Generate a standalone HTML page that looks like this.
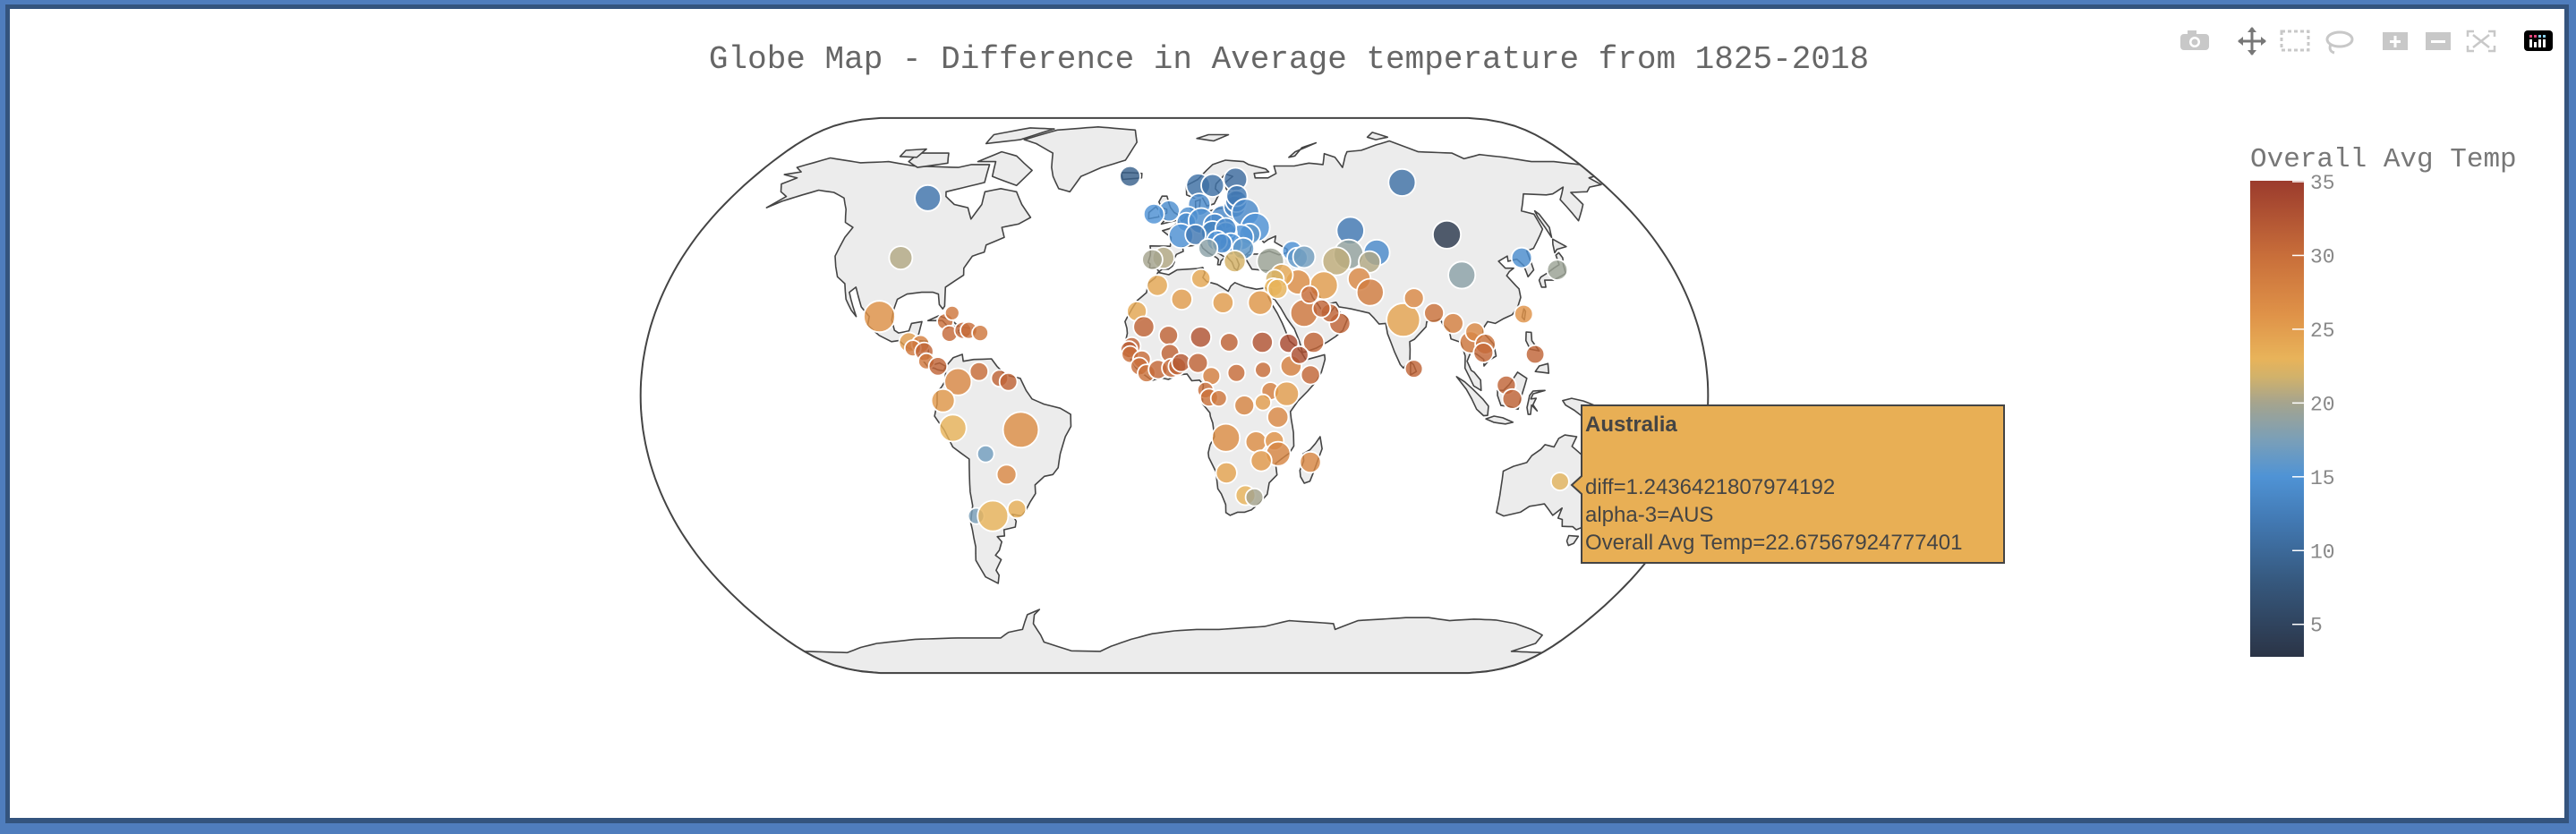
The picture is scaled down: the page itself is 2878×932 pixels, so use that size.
<!DOCTYPE html>
<html><head><meta charset="utf-8">
<style>
html,body{margin:0;padding:0;background:#4f7dbd;width:2878px;height:932px;overflow:hidden}
svg{position:absolute;left:0;top:0}
</style></head>
<body>
<svg id="chart" width="2878" height="932" viewBox="0 0 2878 932" xmlns="http://www.w3.org/2000/svg">
  <defs>
    <linearGradient id="cbgrad" x1="0" y1="1" x2="0" y2="0"></linearGradient>
  </defs>
  <rect x="0" y="0" width="2878" height="932" fill="#4f7dbd"/>
  <rect x="6" y="5" width="2864" height="915" fill="#34547e"/>
  <rect x="11" y="10" width="2854" height="904" fill="#ffffff"/>
  <text x="1440" y="76" text-anchor="middle" font-family="Liberation Mono, monospace" font-size="36" fill="#666">Globe Map - Difference in Average temperature from 1825-2018</text>
  <g id="map"></g>
  <g id="bubbles"></g>
  <g id="colorbar"></g>
  <g id="tooltip">
    <path d="M1767,453 H2239 V629 H1767 V552 L1756,542 L1767,532 Z" fill="#e8af55" stroke="#444" stroke-width="2"/>
    <text x="1771" y="482" font-family="Liberation Sans, sans-serif" font-size="24" font-weight="bold" fill="#444">Australia</text>
    <text x="1771" y="552" font-family="Liberation Sans, sans-serif" font-size="24" fill="#444">diff=1.2436421807974192</text>
    <text x="1771" y="583" font-family="Liberation Sans, sans-serif" font-size="24" fill="#444">alpha-3=AUS</text>
    <text x="1771" y="614" font-family="Liberation Sans, sans-serif" font-size="24" fill="#444">Overall Avg Temp=22.67567924777401</text>
  </g>
  <g id="toolbar" transform="translate(0,14)">
    <g>
      <rect x="2436" y="24" width="32" height="18" rx="4" fill="#c8c8c8"/><rect x="2444" y="20" width="10" height="6" fill="#c8c8c8"/><circle cx="2452" cy="33" r="6" fill="#fff"/><circle cx="2452" cy="33" r="3.5" fill="#c8c8c8"/>
    </g>
    <g stroke="#777" stroke-width="3" fill="#777">
      <line x1="2501" y1="32" x2="2531" y2="32"/><line x1="2516" y1="17" x2="2516" y2="47"/>
      <path d="M2500,32 l6,-5 v10z M2532,32 l-6,-5 v10z M2516,16 l-5,6 h10z M2516,48 l-5,-6 h10z" stroke="none"/>
    </g>
    <rect x="2549" y="21" width="30" height="21" fill="none" stroke="#c8c8c8" stroke-width="3" stroke-dasharray="4,3"/>
    <g><ellipse cx="2614" cy="30" rx="14" ry="8" fill="none" stroke="#c8c8c8" stroke-width="3"/><path d="M2604,35 q-3,8 4,10" fill="none" stroke="#c8c8c8" stroke-width="3"/></g>
    <g><rect x="2662" y="22" width="28" height="20" fill="#c8c8c8"/><rect x="2670" y="31" width="12" height="3" fill="#fff"/><rect x="2674.5" y="26" width="3" height="13" fill="#fff"/></g>
    <g><rect x="2710" y="22" width="28" height="20" fill="#c8c8c8"/><rect x="2716" y="31" width="16" height="3" fill="#fff"/></g>
    <g fill="none" stroke="#c8c8c8" stroke-width="2.5">
      <path d="M2757,27 v-6 h7 M2780,21 h7 v6 M2787,37 v6 h-7 M2764,43 h-7 v-6"/><path d="M2763,25 l18,14 M2781,25 l-18,14"/>
    </g>
    <g><rect x="2820" y="20" width="32" height="23" rx="4" fill="#000"/>
      <rect x="2826" y="30" width="3" height="9" fill="#fff"/><rect x="2831" y="33" width="3" height="6" fill="#fff"/><rect x="2836" y="30" width="3" height="9" fill="#fff"/><rect x="2841" y="30" width="3" height="9" fill="#fff"/>
      <rect x="2826" y="25" width="3" height="3" fill="#e0457b"/><rect x="2831" y="25" width="3" height="3" fill="#e0457b"/><rect x="2836" y="25" width="3" height="3" fill="#8bd3f0"/><rect x="2841" y="25" width="3" height="3" fill="#8bd3f0"/>
    </g>
  </g>
</svg>
<script>
// ---------- data ----------
const countries = ["Canada","United States","Mexico","Cuba","Bahamas","Jamaica","Haiti","Dominican Republic","Puerto Rico","Guatemala","Honduras","El Salvador","Nicaragua","Costa Rica","Panama","Colombia","Venezuela","Guyana","Suriname","Ecuador","Peru","Brazil","Bolivia","Paraguay","Chile","Argentina","Uruguay",
"Iceland","Norway","Sweden","Finland","Russia","Denmark","United Kingdom","Ireland","Netherlands","Belgium","France","Germany","Poland","Czechia","Austria","Switzerland","Lithuania","Latvia","Estonia","Belarus","Ukraine","Moldova","Romania","Hungary","Slovakia","Serbia","Croatia","Bosnia","Bulgaria","Greece","Italy","Spain","Portugal","Turkey","Georgia","Armenia","Azerbaijan","Kazakhstan","Uzbekistan","Turkmenistan","Kyrgyzstan","Tajikistan","Afghanistan","Pakistan","Iran","Iraq","Syria","Lebanon","Israel","Jordan","Saudi Arabia","Yemen","Oman","UAE","Kuwait","Qatar","Mongolia","China","India","Nepal","Bangladesh","Myanmar","Thailand","Laos","Vietnam","Cambodia","Taiwan","Philippines","Malaysia","Indonesia","Sri Lanka","North Korea","Japan",
"Morocco","Algeria","Tunisia","Libya","Egypt","Western Sahara","Mauritania","Mali","Niger","Chad","Sudan","Eritrea","Ethiopia","Somalia","Djibouti","Senegal","Gambia","Guinea-Bissau","Guinea","Sierra Leone","Liberia","Ivory Coast","Burkina Faso","Ghana","Togo","Benin","Nigeria","Cameroon","Central African Rep.","South Sudan","Equatorial Guinea","Gabon","Congo","DR Congo","Uganda","Kenya","Rwanda","Tanzania","Angola","Zambia","Malawi","Mozambique","Zimbabwe","Namibia","South Africa","Lesotho","Madagascar","Australia"];
const lons = [-100,-100,-102,-79,-77,-77,-72.5,-70.5,-66.5,-90.5,-86.5,-89,-85,-84,-80,-73,-66,-59,-56,-78,-75,-52,-64.5,-58,-71,-65,-56,
-19,10,16,26,96,10,-2,-8,5.5,4.6,2.5,10.4,19,15.5,14.5,8,24,25,25.5,28,31,28.5,25,19.5,19.7,21,16,17.8,25.5,22,12.5,-4,-8,35,43.5,45,47.5,67,64,59,74.5,71,66,69,53,44,38.5,35.8,35,36.5,45,47.5,57,54,47.5,51.2,103,103,79,84,90,96,101,103,106,105,121,122.5,112,114,81,127,138,
-6,2.6,9.5,17,30,-13,-10.5,-2,9,18.7,30,39,39.5,46,42.5,-14.5,-15.4,-15,-11,-11.8,-9.4,-5.5,-1.5,-1,1,2.3,8,12.5,21,30,10.5,11.7,15,23.6,32.4,37.9,29.9,35,17.5,27.8,34,35.5,29.8,18,25,28.2,46.7,134];
const lats = [58,40,23,21.5,24,18,19,19,18.2,15.5,15,13.8,12.8,10,8.5,4,7,5,4,-1.5,-9.5,-10,-17,-23,-35,-35,-33,
65,62,62,64,63,56,54,53,52.3,50.6,46.5,51,52,49.8,47.5,46.8,55.3,57,58.7,53.5,49,47,46,47.2,48.7,44,45,44.2,42.7,39,42.8,40,39.5,39,42,40,40.3,48,41,39,41.5,38.8,33.9,30,32,33,35,33.9,31.4,31,24,15.5,21,24,29.3,25.3,46.8,35,22,28.3,24,21,15.5,18.5,15,12.5,23.7,12,3,-1,7.8,40,36.5,
32,28,34,27,27,24.5,20,17.5,17,15.5,15.5,15.2,8.6,6,11.8,14.4,13.4,12,10.5,8.5,6.5,7.6,12.3,8,8.5,9.6,9.5,5.7,6.6,7.5,1.6,-0.6,-0.8,-2.9,1.3,0.5,-2,-6.3,-12.3,-13.5,-13.2,-17,-19,-22.5,-29,-29.6,-19.4,-25];
const temps = [11.5,20.5,26,30,29,30.5,31,30,29,25,28,29,31,29,31,27,30,31,31,25.5,23,26.5,17,27,17.5,23,23.5,
9,11,11,10.5,11,14,14.5,15,14.5,14.5,15,14.5,14,14,13,12,13,12.5,12,14,15,16,15,15,14,15,15,14,16,22,18.5,20.5,20,19.5,15,16,17,12,19,21,14,20.5,27,28.5,25,26.5,24,22,23,23,29,31,31,31,30,31,3.5,18.5,24.5,27,29.5,28,29,27,29.5,30.5,26,31,31,31,31,14.5,19.5,
24,25,24,25,25.5,24,31,31,32.5,31,32.5,33.5,28,30.5,33,31,31.5,30,30,30,29.5,30.5,31,30.5,31,32,31,28,30,30,30,29.5,29,27.5,28,25,25,27,26.5,26.5,26,27.5,25.5,24.5,23,20,27,22.68];
const diffs = [2.6,2.1,3.8,1.0,0.8,1.0,1.1,1.1,1.0,1.5,1.2,1.0,1.3,1.0,1.3,2.8,1.3,1.1,1.2,2.1,2.8,4.9,1.1,1.5,1.0,3.6,1.3,
1.6,2.2,2.0,2.1,2.8,1.9,1.7,1.6,1.5,1.4,2.3,2.5,2.3,1.9,2.0,1.6,1.8,1.8,1.7,2.9,3.2,1.7,2.5,1.9,1.7,1.9,1.6,1.5,1.8,1.8,1.4,1.8,1.6,2.8,1.5,1.6,1.9,2.9,3.4,3.0,2.6,1.8,2.0,2.8,3.0,2.4,1.9,1.3,1.3,1.5,2.9,1.7,1.7,1.3,1.2,1.2,3.0,2.8,4.3,1.5,1.5,1.6,1.8,1.4,1.6,1.5,1.3,1.3,1.4,1.5,1.2,1.6,1.6,
1.7,1.7,1.4,1.7,2.3,1.5,1.7,1.4,1.7,1.3,1.7,1.4,1.7,1.4,1.2,1.2,1.1,1.1,1.2,1.2,1.2,1.4,1.3,1.4,1.2,1.3,1.5,1.2,1.2,1.0,1.0,1.2,1.0,1.5,1.2,2.3,1.0,1.7,3.0,1.7,1.4,2.3,1.7,1.7,1.5,1.2,1.7,1.2436];
const cbTicks = [5,10,15,20,25,30,35];
const cbMin = 2.8, cbMax = 35.06;
const stopT = [2.8,8,12,15,17.5,20,21.8,23,26,30,35.06];
const stopC = ["#2b3446","#36597f","#4279b3","#4f93d5","#7a9fb8","#a5a48e","#d2b26a","#e8b35a","#df9248","#c86e3a","#9b3b2d"];

// ---------- projection (Natural Earth) ----------
const CX=1312, CY=442, SX=218, SY=218, D=Math.PI/180;
function proj(lon,lat){
  const p=lat*D,l=lon*D,p2=p*p,p4=p2*p2;
  const f=0.8707-0.131979*p2-0.013791*p4+p4*p4*p2*(0.003971-0.001529*p2);
  const yv=p*(1.007226+p2*(0.015085+p4*(-0.044475+0.028874*p2-0.005916*p4)));
  return [CX+SX*l*f, CY-SY*yv];
}
function dense(pts){
  const out=[];
  for(let i=0;i<pts.length;i++){
    const a=pts[i],b=pts[(i+1)%pts.length];
    const n=Math.max(1,Math.ceil(Math.max(Math.abs(b[0]-a[0]),Math.abs(b[1]-a[1]))/3));
    for(let k=0;k<n;k++) out.push([a[0]+(b[0]-a[0])*k/n,a[1]+(b[1]-a[1])*k/n]);
  }
  return out;
}
function pathOf(pts){return "M"+dense(pts).map(p=>proj(p[0],p[1]).map(v=>v.toFixed(1)).join(",")).join("L")+"Z";}

const land = {
"north-america":[[-166,68],[-156,71.3],[-140,69.6],[-128,70],[-115,68.5],[-95,68],[-90,69],[-82,69],[-80,63],[-94,60],[-93,58.5],[-88,56],[-82,55],[-79,51.5],[-77,56],[-78,60],[-72,61],[-65,60],[-61,56],[-56,52],[-60,50],[-66,49],[-64,46],[-70,43.8],[-70,41.7],[-74,40.5],[-76,37],[-75.5,35],[-81,31.5],[-80,26],[-80.5,25.2],[-82,26.5],[-83,29.5],[-85,30],[-89,30],[-94,29.5],[-97,28],[-97.5,25],[-97.5,22],[-96,19],[-94.5,18.2],[-91,18.8],[-90.5,21],[-87,21.5],[-87.5,18],[-88,16],[-84,15.8],[-83.5,12],[-83.6,10.8],[-81.5,9],[-79.5,9.5],[-77.3,8.5],[-78,7.2],[-80,7.5],[-81,7.9],[-83.5,8.5],[-86,11],[-87.5,13],[-91,14],[-94,16],[-96.5,15.7],[-101,17.5],[-105.5,20.5],[-105.5,23],[-109,25.8],[-112.7,31.5],[-114.5,30],[-112,26],[-110,23],[-112.2,24.8],[-115,28],[-117,32.5],[-120.5,34.5],[-122.5,37.5],[-124.3,40.5],[-124,46],[-123,49],[-127,50.5],[-130,54.5],[-134,58],[-140,59.8],[-147,60.5],[-152,59],[-158,57],[-162,55],[-158,58.5],[-162,60],[-165,62.5],[-161,64.5],[-168,65.6],[-162,66.5]],
"greenland":[[-73,78],[-60,82],[-40,83.5],[-20,82],[-18,77],[-22,70.5],[-32,68],[-40,65],[-43,60],[-48,61],[-52,65],[-54,68],[-56,73],[-66,76.5]],
"baffin":[[-80,73.5],[-72,72],[-62,67],[-66,62],[-72,63.5],[-78,65],[-80,70],[-88,70]],
"victoria":[[-118,73],[-104,73],[-101,69.5],[-113,68],[-119,70]],
"ellesmere":[[-90,80],[-75,83],[-62,82.5],[-75,78],[-90,76.5]],
"banks":[[-125,74],[-116,74.5],[-117,71.5],[-125,71.8]],
"south-america":[[-77.3,8.5],[-75,11],[-72,12],[-71.5,10],[-68,10.5],[-62,10.7],[-60,8.5],[-57,6],[-52,5],[-50,1.5],[-48,-1],[-44,-2.5],[-38.5,-3.7],[-35,-5.5],[-35,-9],[-37,-12],[-39,-17],[-40,-21],[-42,-23],[-45,-23.5],[-48.5,-26],[-48.7,-28.5],[-51,-31],[-53,-33.5],[-54.8,-35],[-58,-34.5],[-57,-36.5],[-57.7,-38.2],[-62,-39],[-62.3,-40.8],[-65,-41],[-63.8,-42.5],[-65.5,-45],[-67.5,-46.5],[-65.8,-47.8],[-69,-51],[-68.5,-52.5],[-70,-55],[-74,-53],[-75.5,-48],[-74,-44],[-73.5,-39],[-73.5,-37],[-71.5,-32],[-71.5,-28],[-70.3,-18.5],[-75.5,-15],[-78,-10],[-81,-6],[-80,-2.5],[-80,1],[-78.5,2.5],[-77.5,4],[-77.3,6.5]],
"eurasia":[[-9,43.5],[-1.5,43.4],[-1.2,46],[-4.5,48],[-1.5,48.7],[1.5,50.5],[4,51.5],[5,53],[8.5,53.8],[8.5,57],[10.5,57.5],[10,55],[12,54.2],[14,54],[18,54.8],[21,55],[21,57],[24,57.5],[23.5,59.2],[28,59.5],[22.5,60],[21.5,61],[21.5,63],[25,65],[22,65.8],[17.5,62.5],[17,61],[18.5,59.5],[16,56.2],[13,55.5],[11,58.8],[8,58],[5,59],[5,62],[10,64],[14,67],[17,69],[23,70.5],[31,70],[33,69],[40,67.5],[41,66.5],[34.5,66],[34.5,64.5],[40,64.5],[44,66],[44,68.5],[53,68.5],[60,69.5],[66,69],[69,72.8],[73,71.5],[74,68],[78,72],[80,73.5],[87,74],[96,76],[104,77.5],[113,73.5],[128,73],[131,71],[140,72.5],[150,71.5],[160,70],[170,70],[180,69],[180,65],[177,64.5],[179,62.3],[173,61.5],[170,60],[163,59.8],[163.5,56],[156.5,51],[156,57.5],[162,61.5],[155,59.3],[152,59],[143,59.3],[137,54],[141,53],[140.5,48.5],[133,42.8],[130,42],[129.5,36.5],[126.5,34.5],[126.5,37.8],[125,39.6],[121.5,39],[122,40.5],[118,39],[119.5,37],[122.5,37],[120.5,36],[119,34.8],[121,32],[121.8,31],[121.5,28.5],[119.5,25.7],[117,23.5],[113.5,22.3],[110.5,21],[108,21.5],[106.5,20],[105.7,18.5],[108.8,15],[109.2,11.5],[106.7,10.3],[104.8,8.6],[104.9,10.5],[102.7,12],[100.8,12.8],[99.2,10],[100.4,7.3],[101.3,6.8],[103.4,4.5],[103.5,1.5],[101,2.8],[98.3,8],[98.7,11.5],[97.7,15.5],[94.5,16.5],[94.3,19],[92.4,20.7],[91.8,22.3],[90.3,21.8],[87,21.5],[86.5,20],[82,16.4],[80.3,15.7],[80.2,13.5],[79.8,10.3],[77.5,8],[76.5,9],[74.8,12.8],[73,18],[72.8,21],[70.5,20.8],[69,22.5],[67.5,24],[61.5,25.2],[57.3,25.8],[56.5,27.1],[54,26.7],[51.5,27.9],[50.2,30.1],[48,30],[48.5,28.5],[50.1,26.5],[51.6,24.2],[54,24.1],[56.3,26.2],[56.4,24.8],[58.8,23.4],[59.8,22.3],[57.8,19],[55.2,17.2],[52.2,15.6],[48.5,13.9],[45,12.8],[43.5,12.6],[42.7,15.7],[41.2,19.4],[38.8,22.5],[37,25.5],[35.1,28],[34.6,28.1],[34.4,29.5],[34.2,31.3],[34.9,32.8],[35.9,35.4],[36.2,36.6],[34,36.2],[30.5,36.5],[28,36.7],[26.2,39.5],[27,40.8],[29,41.1],[31.2,41.1],[35,42],[38.4,40.9],[41.5,41.5],[41.7,42.5],[37.5,44.6],[38.2,46.4],[35.2,45.4],[33.5,44.5],[32.5,45.4],[30.7,46.6],[29.6,45.3],[28.7,44],[28,42],[26.1,40.8],[24,40.7],[22.6,40.2],[23.5,38],[22.7,36.4],[21.7,36.9],[21,38.7],[19.4,40.2],[19.5,41.8],[16,43.5],[13.6,45.5],[12.3,45.4],[12.6,44],[14,42.7],[16,41.5],[18.5,40.2],[17,39.1],[16.6,38],[15.7,38],[16.1,39.5],[15.5,40],[12.5,41.5],[10.5,42.9],[9.8,44.2],[8.4,44],[7,43.6],[4.5,43.4],[3.1,43.1],[3.3,41.9],[0.8,41],[-0.3,39.4],[0,38.7],[-0.7,37.6],[-2.1,36.7],[-4.4,36.7],[-5.4,36],[-6.4,36.8],[-7.4,37.1],[-8.9,36.9],[-8.8,38.2],[-9.5,38.7],[-8.8,40.8],[-8.8,42.6]],
"africa":[[-5.9,35.8],[-2,35.1],[1,36.5],[8.5,36.9],[10.3,37.2],[11,35.6],[10.2,34.3],[11.5,33.1],[15.2,32.3],[19,30.3],[20,31.8],[21.5,32.8],[25,31.6],[29,30.9],[32.3,31.3],[34,29.5],[32.5,29.8],[34,26.6],[35.7,23.9],[37.2,21],[38.5,17.9],[39.3,15.9],[41.2,14.5],[43.3,12.4],[44.6,10.4],[51,11.9],[51.1,10.6],[49.7,6.8],[48,4.2],[45,1.3],[41.6,-1.7],[39.2,-4.7],[39.5,-6.9],[40.4,-10.8],[40.7,-14.7],[39.4,-16.7],[36.5,-18.6],[34.8,-19.8],[35.5,-23.1],[33,-25.4],[32.6,-28.7],[30.2,-31.2],[27.5,-33.2],[25.1,-33.9],[22.6,-33.9],[20,-34.8],[18.4,-34],[18.2,-31.7],[16.5,-28.6],[15.2,-27.1],[14.3,-22.1],[11.8,-18],[11.6,-16.7],[12.2,-14.4],[13.6,-12],[13,-8],[12.2,-6.1],[12,-5],[9.5,-2.4],[9.5,1],[9.8,3.1],[8.5,4.5],[5.9,4.3],[4.3,6.3],[1.1,6],[-2,4.7],[-4.6,5.2],[-7.5,4.4],[-11.4,6.8],[-13.1,8.2],[-15,10.9],[-16.7,12.4],[-17.6,14.7],[-16.7,15.6],[-16.1,18.1],[-16.3,19.6],[-17,21.5],[-16.3,22.7],[-14.8,25.1],[-13,27.6],[-9.8,29.9],[-9.3,32.6],[-6.9,34.1]],
"madagascar":[[49.5,-12],[50.4,-15.5],[49.5,-18],[48,-22.5],[47.1,-24.9],[45.2,-25.5],[43.7,-23.6],[43.3,-21.8],[44.4,-19],[44,-17],[46.3,-15.8],[48,-14]],
"great-britain":[[-5,50],[1.4,51.2],[1.7,52.7],[0,53.5],[-1.5,55],[-2,56],[-3,58.6],[-5,58.6],[-6.2,56.8],[-5,55],[-3,54.5],[-3,53.3],[-4.5,52.8],[-5,51.7],[-3.5,51.4]],
"ireland":[[-6,52.2],[-6,54],[-7.3,55.3],[-8.5,54.5],[-10,53.5],[-10,51.6]],
"iceland":[[-22,64],[-14,64.5],[-14,66],[-18,66.2],[-23,66.3]],
"honshu":[[130,31.5],[131.5,31.5],[132,33.5],[135,33.5],[138.5,34.7],[140.5,35.5],[141,38],[142,40],[141.5,41.5],[140,40.8],[139.5,38],[137,37],[134,35.6],[131,34.4],[130,33.5]],
"hokkaido":[[140,41.5],[141.5,42.5],[145.5,43.3],[142,45.5],[141,44]],
"sakhalin":[[142,46],[143.5,49],[143,53],[142.2,54],[141.7,52]],
"sri-lanka":[[79.8,6],[81.8,7],[81,9],[80,9.8]],
"taiwan":[[120.2,22.8],[121.5,25.2],[121.9,24.5],[120.8,22]],
"luzon":[[120,16],[120.6,18.5],[122.3,18.4],[122,16],[124,13],[121,13.5]],
"mindanao":[[122,7],[126.5,6.5],[126.5,9.3],[123.5,8.6]],
"borneo":[[109,1.5],[111,1.5],[113,3.2],[116,6.8],[119,5],[117.5,1],[116.5,-2],[116,-4],[113,-3.2],[110.2,-2.9],[109,0]],
"sumatra":[[95.3,5.5],[98,4],[100.5,2],[104,-1],[106,-3.1],[105.8,-5.8],[104.5,-5.9],[102,-4],[100.3,-1],[98.5,1.8]],
"java":[[105.3,-6.8],[108,-6],[111,-6.5],[114.5,-7.8],[112,-8.3],[108,-7.8]],
"sulawesi":[[119.5,-5.5],[119,-3.5],[119.8,0],[121,1.3],[125,1.5],[121,0.5],[120.2,-1],[122,-0.8],[121,-2.7],[122.5,-4.5],[120.5,-2.8],[120.3,-5.5]],
"new-guinea":[[131,-1.5],[134,-0.8],[138,-1.6],[144.5,-3.8],[147.5,-6],[150.5,-10.5],[146,-8],[143,-9],[141,-9.1],[138,-8.3],[138.5,-6.5],[135,-4.3],[132,-2.8]],
"australia":[[113.5,-22],[114,-26.5],[115,-34],[118,-35],[123.5,-33.9],[126,-32.2],[131,-31.5],[135.5,-34.8],[137.8,-32.7],[137.8,-35.6],[139.5,-36],[140.6,-38],[144.5,-38.1],[146.3,-39],[150,-37.5],[151.3,-33.8],[153.1,-30],[153.1,-26],[150.6,-22.5],[146.3,-19],[145.4,-14.9],[143.5,-14],[142.5,-10.7],[141.6,-12.9],[141.5,-17.5],[140,-17.7],[135.5,-14.8],[136.6,-12],[132.5,-11.5],[130.6,-12.5],[129.4,-15],[126.2,-14.3],[125,-15.7],[122.3,-17.5],[121,-19.5],[116.7,-20.6]],
"tasmania":[[144.7,-40.7],[148.3,-40.9],[148,-43],[146.5,-43.6],[145,-42.3]],
"nz-north":[[172.7,-34.5],[174.5,-36],[178.5,-37.7],[176.9,-39.4],[174.9,-41.4],[174.6,-39.8],[173.8,-39.2],[174.6,-37.5]],
"nz-south":[[172.7,-40.5],[174.2,-41.7],[173,-43.8],[171.2,-44.6],[169.3,-46.6],[166.5,-46],[168.4,-44],[171,-42]],
"cuba":[[-85,21.8],[-81.5,23.2],[-77,22],[-74.2,20.2],[-77.5,19.8],[-80,21.8]],
"hispaniola":[[-74.4,18.5],[-72.8,19.9],[-69,19.5],[-68.4,18.5],[-71.5,17.6]],
"novaya-zemlya":[[52,71.5],[56,73.5],[68,76.8],[60,75],[55,72]],
"svalbard":[[11,78.5],[17,80],[27,80],[19,77.5]],
"severnaya":[[95,79],[100,81],[105,79],[98,78]],
"antarctica":[[-180,-78],[-160,-78.5],[-150,-76.5],[-140,-75],[-120,-73.5],[-100,-73],[-80,-73],[-75,-71],[-68,-70],[-63,-65],[-57,-63.3],[-60,-65],[-62,-68],[-61,-72],[-61,-74.5],[-50,-77.8],[-36,-78],[-30,-76],[-20,-73.5],[-10,-71.5],[0,-70.5],[10,-70],[20,-70],[30,-69.5],[40,-69],[50,-67],[60,-67.5],[70,-68],[72,-70],[80,-67],[90,-66.5],[100,-66],[110,-66],[120,-67],[130,-66.5],[140,-66.8],[150,-68],[160,-70],[168,-72],[170,-75],[164,-78],[180,-78.5],[180,-90],[-180,-90]]
};

const NS="http://www.w3.org/2000/svg";
const mapG=document.getElementById("map");
const framePts=[];
for(let la=90;la>=-90;la-=2) framePts.push([180,la]);
for(let la=-90;la<=90;la+=2) framePts.push([-180,la]);
const frameD="M"+framePts.map(p=>proj(p[0],p[1]).map(v=>v.toFixed(1)).join(",")).join("L")+"Z";
const bg=document.createElementNS(NS,"path");
bg.setAttribute("d",frameD);bg.setAttribute("fill","#fff");


mapG.appendChild(bg);
for(const k in land){
  const p=document.createElementNS(NS,"path");
  p.setAttribute("d",pathOf(land[k]));
  p.setAttribute("fill","#ececec");p.setAttribute("stroke","#444");p.setAttribute("stroke-width","1.6");p.setAttribute("stroke-linejoin","round");
  
  
  mapG.appendChild(p);
}
const fr=document.createElementNS(NS,"path");
fr.setAttribute("d",frameD);fr.setAttribute("fill","none");fr.setAttribute("stroke","#444");fr.setAttribute("stroke-width","2");


mapG.appendChild(fr);

// ---------- colour scale ----------
function hex2rgb(h){return [parseInt(h.slice(1,3),16),parseInt(h.slice(3,5),16),parseInt(h.slice(5,7),16)];}
function colorFor(t){
  if(t<=stopT[0]) return stopC[0];
  for(let i=1;i<stopT.length;i++){
    if(t<=stopT[i]){
      const u=(t-stopT[i-1])/(stopT[i]-stopT[i-1]);
      const a=hex2rgb(stopC[i-1]),b=hex2rgb(stopC[i]);
      return "rgb("+a.map((v,j)=>Math.round(v+(b[j]-v)*u)).join(",")+")";
    }
  }
  return stopC[stopC.length-1];
}

// ---------- bubbles ----------
const bG=document.getElementById("bubbles");
function sizeFor(d){return 18*Math.sqrt(d)/2;}
for(let i=0;i<countries.length;i++){
  const [x,y]=proj(lons[i],lats[i]);
  const c=document.createElementNS(NS,"circle");
  c.setAttribute("cx",x.toFixed(1));c.setAttribute("cy",y.toFixed(1));
  c.setAttribute("r",sizeFor(diffs[i]).toFixed(1));
  c.setAttribute("fill",colorFor(temps[i]));c.setAttribute("fill-opacity","0.82");
  c.setAttribute("stroke","#fff");c.setAttribute("stroke-width","1.8");
  
  
  bG.appendChild(c);
}

// ---------- colorbar ----------
const CBX=2514, CBW=60, CBT=202, CBB=734;
function cbY(v){return CBB-(v-cbMin)/(cbMax-cbMin)*(CBB-CBT);}
const grad=document.getElementById("cbgrad");
for(let i=0;i<stopT.length;i++){
  const s=document.createElementNS(NS,"stop");
  s.setAttribute("offset",((stopT[i]-cbMin)/(cbMax-cbMin)).toFixed(4));
  s.setAttribute("stop-color",stopC[i]);
  grad.appendChild(s);
}
const cbG=document.getElementById("colorbar");
const cbr=document.createElementNS(NS,"rect");
cbr.setAttribute("x",CBX);cbr.setAttribute("y",CBT);cbr.setAttribute("width",CBW);cbr.setAttribute("height",CBB-CBT);cbr.setAttribute("fill","url(#cbgrad)");


cbG.appendChild(cbr);
const cbt=document.createElementNS(NS,"text");
cbt.setAttribute("x",CBX);cbt.setAttribute("y",186);cbt.setAttribute("font-family","Liberation Mono, monospace");cbt.setAttribute("font-size","31");cbt.setAttribute("fill","#777");
cbt.textContent="Overall Avg Temp";


cbG.appendChild(cbt);
for(const v of cbTicks){
  const y=cbY(v);
  const l=document.createElementNS(NS,"line");
  l.setAttribute("x1",CBX+CBW-13);l.setAttribute("x2",CBX+CBW);l.setAttribute("y1",y);l.setAttribute("y2",y);l.setAttribute("stroke","#fff");l.setAttribute("stroke-width","1.5");
  
  
  cbG.appendChild(l);
  const t=document.createElementNS(NS,"text");
  t.setAttribute("x",CBX+CBW+7);t.setAttribute("y",y+8);t.setAttribute("font-family","Liberation Mono, monospace");t.setAttribute("font-size","23");t.setAttribute("fill","#888");
  t.textContent=String(v);
  
  
  cbG.appendChild(t);
}
</script>
</body></html>
